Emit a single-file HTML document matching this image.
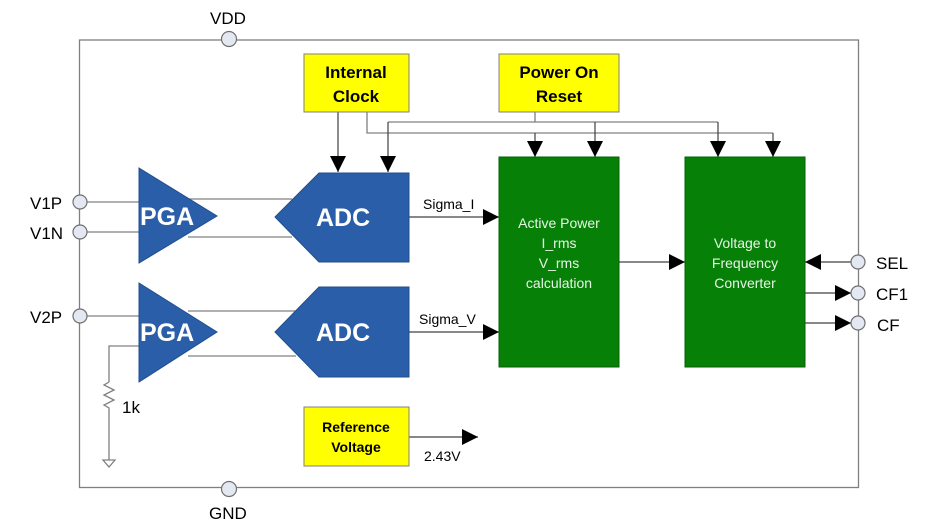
<!DOCTYPE html>
<html><head><meta charset="utf-8"><style>
html,body{margin:0;padding:0;background:#fff;width:927px;height:528px;overflow:hidden}
svg{display:block}
text{font-family:"Liberation Sans",sans-serif}
</style></head><body>
<svg width="927" height="528" viewBox="0 0 927 528" xmlns="http://www.w3.org/2000/svg">
<defs>
<marker id="a" viewBox="0 0 10 10" refX="10" refY="5" markerWidth="16" markerHeight="16" markerUnits="userSpaceOnUse" orient="auto"><path d="M0,0 L10,5 L0,10 Z" fill="#000"/></marker>
</defs>
<g stroke="#808080" stroke-width="1.3" fill="none">
<rect x="79.5" y="40" width="779" height="447.5"/>
<!-- inputs -->
<line x1="80" y1="202" x2="139" y2="202"/>
<line x1="80" y1="232" x2="139" y2="232"/>
<line x1="80" y1="316" x2="139" y2="316"/>
<polyline points="139,346 109,346 109,382"/>
<polyline points="109,382 104,385 114,390 104,395 114,400 104,405 109,408 109,460"/>
<path d="M103,460 L115,460 L109,467 Z"/>
<!-- PGA to ADC -->
<line x1="188" y1="199" x2="292" y2="199"/>
<line x1="188" y1="237" x2="292" y2="237"/>
<line x1="188" y1="311" x2="296" y2="311"/>
<line x1="188" y1="356" x2="296" y2="356"/>
<!-- clock/reset -->
<polyline points="367,112 367,133 773,133"/>
<polyline points="535,112 535,122 388,122"/>
<line x1="535" y1="122" x2="718" y2="122"/>
</g>
<g stroke="#404040" stroke-width="1.2" fill="none" marker-end="url(#a)">
<line x1="338" y1="112" x2="338" y2="172"/>
<line x1="388" y1="122" x2="388" y2="172"/>
<line x1="535" y1="133" x2="535" y2="157"/>
<line x1="595" y1="122" x2="595" y2="157"/>
<line x1="718" y1="122" x2="718" y2="157"/>
<line x1="773" y1="133" x2="773" y2="157"/>
<line x1="409" y1="217" x2="499" y2="217"/>
<line x1="409" y1="332" x2="499" y2="332"/>
<line x1="619" y1="262" x2="685" y2="262"/>
<line x1="852" y1="262" x2="805" y2="262"/>
<line x1="805" y1="293" x2="851" y2="293"/>
<line x1="805" y1="323" x2="851" y2="323"/>
<line x1="409" y1="437" x2="478" y2="437"/>
</g>
<!-- PGA / ADC -->
<g fill="#2a5ea8" stroke="#1f4e8c" stroke-width="1">
<path d="M139,168 L217,216 L139,263 Z"/>
<path d="M139,283 L217,332 L139,382 Z"/>
<path d="M319,173 L409,173 L409,262 L319,262 L275,217 Z"/>
<path d="M319,287 L409,287 L409,377 L319,377 L275,332 Z"/>
</g>
<g fill="#fff" font-weight="bold" font-size="25">
<text x="140" y="225">PGA</text>
<text x="140" y="341">PGA</text>
<text x="316" y="226">ADC</text>
<text x="316" y="341">ADC</text>
</g>
<!-- yellow boxes -->
<g fill="#ffff00" stroke="#808080" stroke-width="1">
<rect x="304" y="54" width="105" height="58"/>
<rect x="499" y="54" width="120" height="58"/>
<rect x="304" y="407" width="105" height="59"/>
</g>
<g font-weight="bold" font-size="17" text-anchor="middle" fill="#000">
<text x="356" y="78">Internal</text><text x="356" y="102">Clock</text>
<text x="559" y="78">Power On</text><text x="559" y="102">Reset</text>
</g>
<g font-weight="bold" font-size="14" text-anchor="middle" fill="#000">
<text x="356" y="432">Reference</text><text x="356" y="452">Voltage</text>
</g>
<!-- green -->
<g fill="#078007" stroke="#056005" stroke-width="1">
<rect x="499" y="157" width="120" height="210"/>
<rect x="685" y="157" width="120" height="210"/>
</g>
<g fill="#e6f5e6" font-size="14" text-anchor="middle">
<text x="559" y="228">Active Power</text>
<text x="559" y="248">I_rms</text>
<text x="559" y="268">V_rms</text>
<text x="559" y="288">calculation</text>
<text x="745" y="248">Voltage to</text>
<text x="745" y="268">Frequency</text>
<text x="745" y="288">Converter</text>
</g>
<!-- terminals -->
<g fill="#e4e8f2" stroke="#707070" stroke-width="1.2">
<circle cx="80" cy="202" r="7"/><circle cx="80" cy="232" r="7"/><circle cx="80" cy="316" r="7"/>
<circle cx="229" cy="39" r="7.5"/><circle cx="229" cy="489" r="7.5"/>
<circle cx="858" cy="262" r="7"/><circle cx="858" cy="293" r="7"/><circle cx="858" cy="323" r="7"/>
</g>
<g font-size="17" fill="#000">
<text x="30" y="209">V1P</text>
<text x="30" y="239">V1N</text>
<text x="30" y="323">V2P</text>
<text x="210" y="24">VDD</text>
<text x="209" y="519">GND</text>
<text x="876" y="269">SEL</text>
<text x="876" y="300">CF1</text>
<text x="877" y="331">CF</text>
<text x="122" y="413">1k</text>
</g>
<g font-size="14" fill="#000">
<text x="423" y="209">Sigma_I</text>
<text x="419" y="324">Sigma_V</text>
<text x="424" y="461">2.43V</text>
</g>
</svg>
</body></html>
